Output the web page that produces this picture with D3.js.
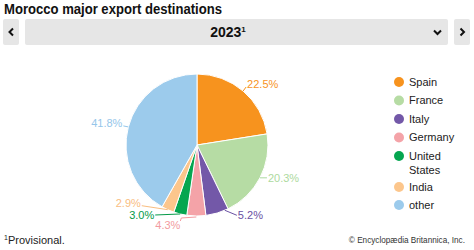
<!DOCTYPE html>
<html>
<head>
<meta charset="utf-8">
<script src="https://cdn.jsdelivr.net/npm/d3@7"></script>
<style>
  html, body { margin: 0; padding: 0; background: #fff; }
  svg { display: block; font-family: "Liberation Sans", Arial, sans-serif; }
</style>
</head>
<body>
<svg id="chart" width="474" height="250"></svg>
<script>
// ---- data ----
const title = "Morocco major export destinations";
const yearLabel = "2023";
const categories = ["Spain", "France", "Italy", "Germany", "United States", "India", "other"];
const legendLines = [["Spain"], ["France"], ["Italy"], ["Germany"], ["United", "States"], ["India"], ["other"]];
const shares = [22.5, 20.3, 5.2, 4.3, 3.0, 2.9, 41.8];
const colors = ["#f7931e", "#b6dca4", "#7358a8", "#f4a3a8", "#05a650", "#fcc68c", "#9ccbec"];
const labelColors = ["#f7931e", "#addaa0", "#6a51a3", "#f29ba0", "#059a48", "#f9bd7f", "#95c6ea"];
const footnote = "Provisional.";
const credit = "\u00A9 Encyclop\u00E6dia Britannica, Inc.";

// ---- layout (annotation placement only) ----
// t: where along the slice the leader starts; dx/dy: label offset from that point
const annot = [
  { t: 0.5,  dx: 4,   dy: -7, anchor: "start" },
  { t: 0.5,  dx: 8,   dy: 0,  anchor: "start" },
  { t: 0.15, dx: 13,  dy: 5,  anchor: "start" },
  { t: 0.5,  dx: -16, dy: 9,  anchor: "end", elbow: true },
  { t: 0.5,  dx: -26, dy: 1,  anchor: "end" },
  { t: 0.5,  dx: -27, dy: -7, anchor: "end" },
  { t: 0.5,  dx: -6,  dy: -4, anchor: "end" }
];

const svg = d3.select("#chart");

// title
svg.append("text").attr("x", 4).attr("y", 14)
  .attr("font-size", 14.5).attr("font-weight", "bold").attr("fill", "#111")
  .attr("textLength", 218).attr("lengthAdjust", "spacingAndGlyphs")
  .text(title);

// year selector bar
const bar = svg.append("g");
bar.append("rect").attr("x", 3).attr("y", 19).attr("width", 16).attr("height", 26).attr("rx", 2).attr("fill", "#e6e6e6");
bar.append("rect").attr("x", 25).attr("y", 19).attr("width", 423).attr("height", 26).attr("rx", 2).attr("fill", "#e6e6e6");
bar.append("rect").attr("x", 454).attr("y", 19).attr("width", 16).attr("height", 26).attr("rx", 2).attr("fill", "#e6e6e6");
bar.append("path").attr("d", "M13,28.5 L9.5,32 L13,35.5").attr("fill", "none").attr("stroke", "#111").attr("stroke-width", 2);
bar.append("path").attr("d", "M460.5,28.5 L464,32 L460.5,35.5").attr("fill", "none").attr("stroke", "#111").attr("stroke-width", 2);
bar.append("path").attr("d", "M434,30.5 L437.5,34 L441,30.5").attr("fill", "none").attr("stroke", "#111").attr("stroke-width", 2);
const yt = bar.append("text").attr("x", 228).attr("y", 37).attr("text-anchor", "middle")
  .attr("font-size", 14).attr("font-weight", "bold").attr("fill", "#111");
yt.append("tspan").text(yearLabel);
yt.append("tspan").attr("font-size", 8).attr("dy", -5).text("1");

// pie
const cx = 197, cy = 145, R = 71;
const pie = d3.pie().sort(null).value(d => d)(shares);
const arc = d3.arc().innerRadius(0).outerRadius(R);
const g = svg.append("g").attr("transform", `translate(${cx},${cy})`);
g.selectAll("path.slice").data(pie).join("path")
  .attr("class", "slice")
  .attr("d", arc)
  .attr("fill", (d, i) => colors[i])
  .attr("stroke", "#fff").attr("stroke-width", 1);

// labels with leaders
pie.forEach((d, i) => {
  const a = annot[i];
  const ang = d.startAngle + a.t * (d.endAngle - d.startAngle);
  const px = R * Math.sin(ang), py = -R * Math.cos(ang);
  const lx = px + a.dx, ly = py + a.dy;
  const ex = a.anchor === "start" ? lx - 1 : lx + 1;
  let pts;
  if (a.elbow) pts = [[px, py + 1], [ex, py + 2], [ex - 1, ly - 4]];
  else pts = [[px, py], [ex, ly + (a.dy < 0 ? 3 : 0)]];
  g.append("path").attr("d", d3.line()(pts))
    .attr("fill", "none").attr("stroke", labelColors[i]).attr("stroke-width", 1);
  g.append("text").attr("x", lx).attr("y", ly).attr("dy", "0.35em")
    .attr("text-anchor", a.anchor).attr("font-size", 11)
    .attr("fill", labelColors[i])
    .text(d3.format(".1f")(shares[i]) + "%");
});

// legend
const legendY = [82, 100.5, 119, 137.5, 156, 187, 205];
const lg = svg.append("g");
categories.forEach((c, i) => {
  lg.append("circle").attr("cx", 399).attr("cy", legendY[i]).attr("r", 5).attr("fill", colors[i]);
  const t = lg.append("text").attr("x", 409).attr("y", legendY[i])
    .attr("font-size", 11).attr("fill", "#222");
  legendLines[i].forEach((ln, j) => {
    t.append("tspan").attr("x", 409).attr("dy", j === 0 ? "0.35em" : "1.3em").text(ln);
  });
});

// footer
const fn = svg.append("text").attr("x", 4).attr("y", 244).attr("font-size", 11).attr("fill", "#222");
fn.append("tspan").attr("font-size", 7).attr("dy", -4).text("1");
fn.append("tspan").attr("dy", 4).text(footnote);
svg.append("text").attr("x", 465).attr("y", 243).attr("text-anchor", "end")
  .attr("font-size", 8.2).attr("fill", "#333").text(credit);
</script>
</body>
</html>
